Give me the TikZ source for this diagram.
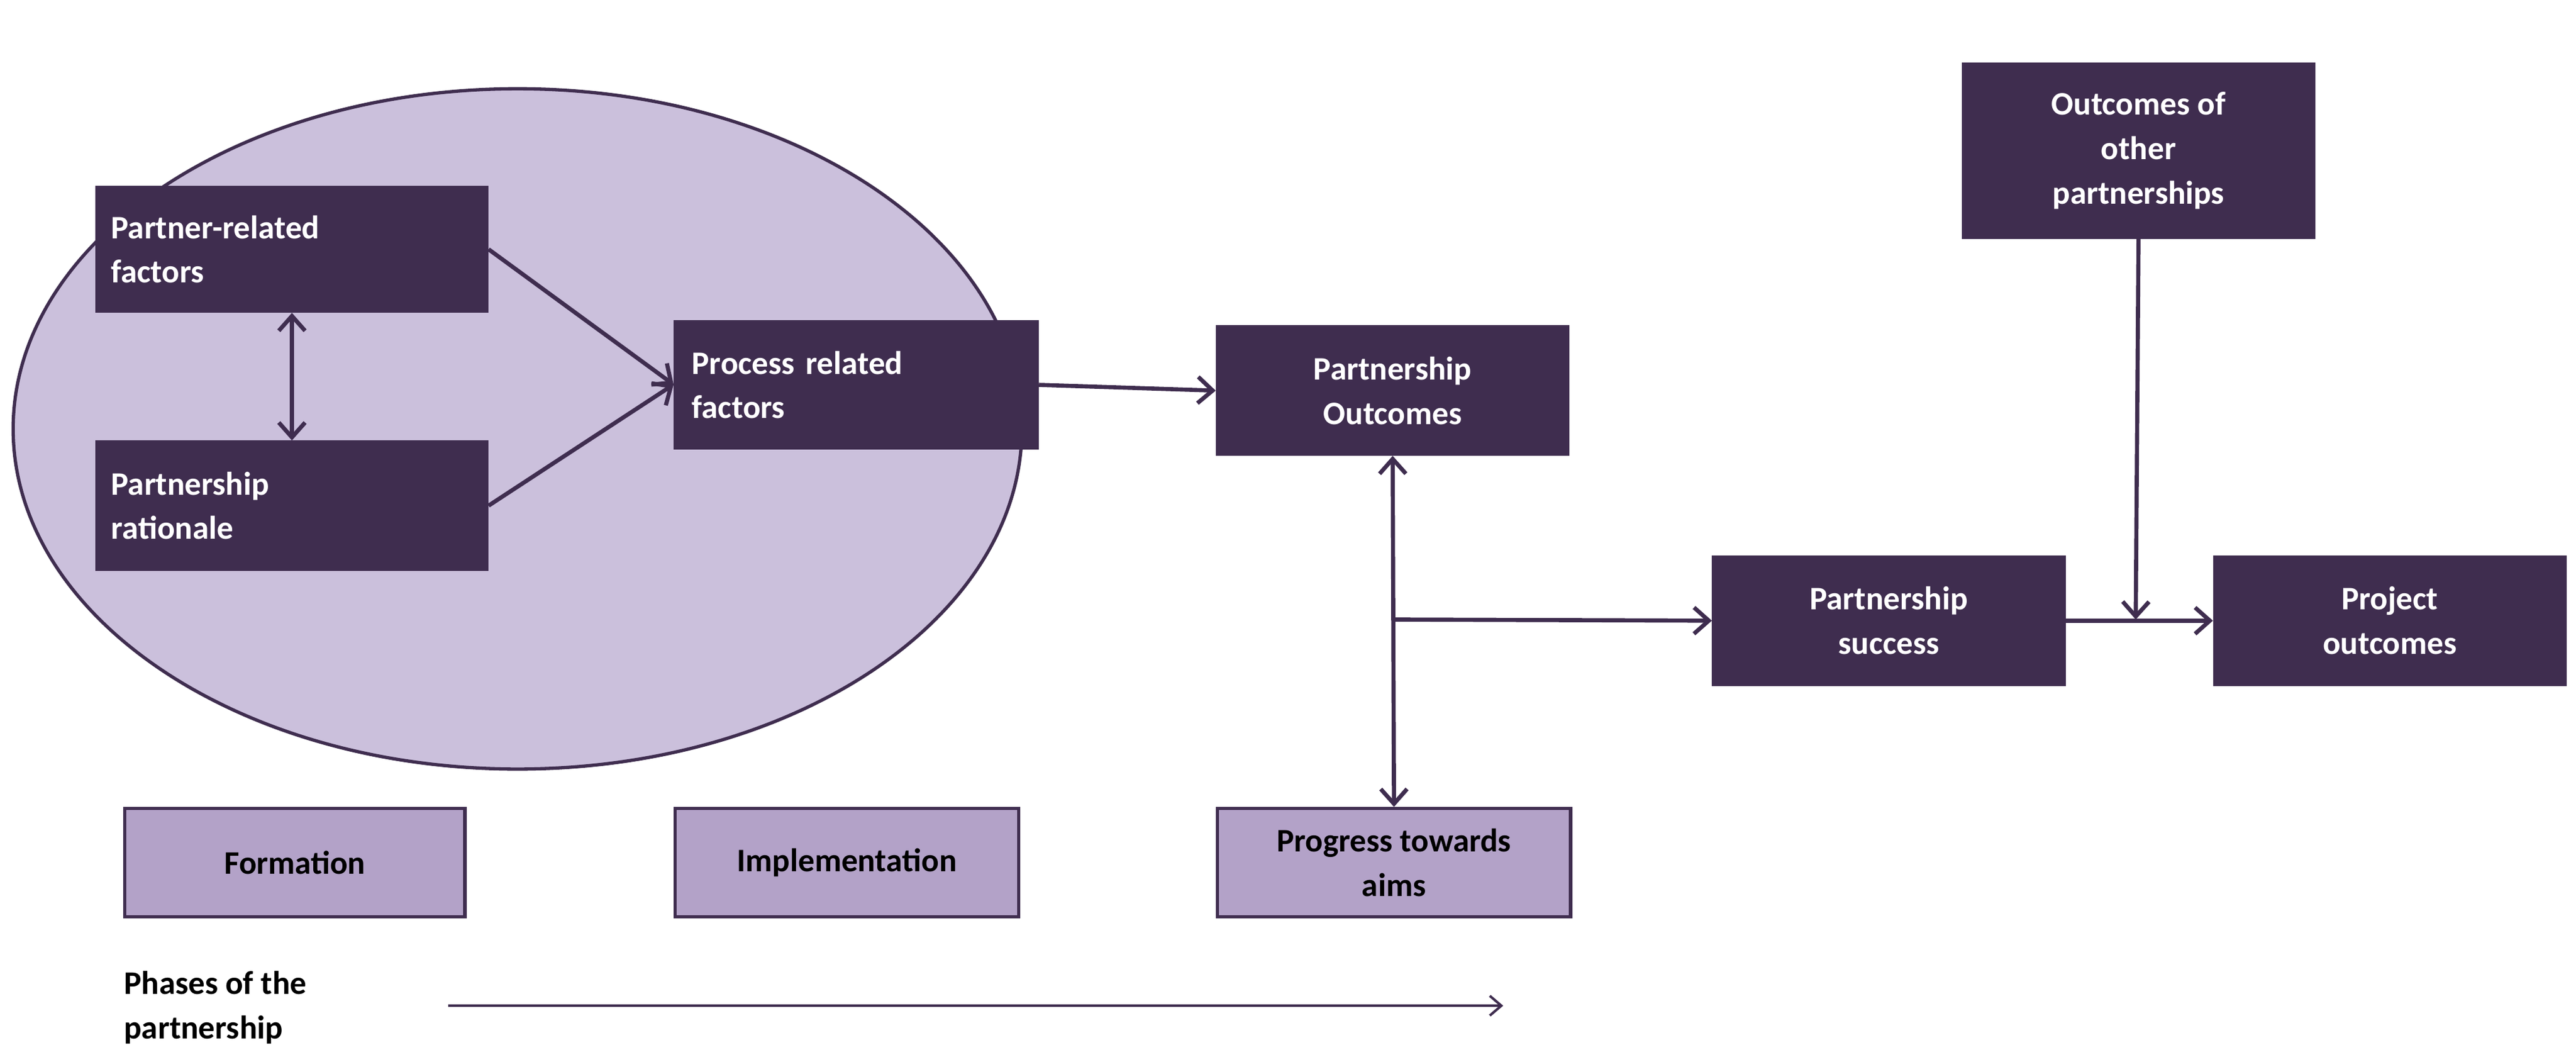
\documentclass[tikz,border=0pt]{standalone}
\usepackage{fontspec}
\setmainfont{Carlito}
\usetikzlibrary{arrows.meta}
\definecolor{dk}{HTML}{3F2D4F}
\definecolor{el}{HTML}{CBC0DC}
\definecolor{lt}{HTML}{B3A2C8}
\begin{document}
\begin{tikzpicture}[x=1pt,y=-1pt,
 box/.style={draw=dk,fill=dk,text=white,font=\fontsize{20}{27}\selectfont\bfseries,inner sep=0pt},
 pbox/.style={draw=dk,line width=2pt,fill=lt,text=black,font=\fontsize{20}{27}\selectfont\bfseries,inner sep=0pt},
 ar/.style={draw=dk,line width=2.5pt,-{Straight Barb[length=9pt,width=16pt]}},
 dar/.style={draw=dk,line width=2.5pt,{Straight Barb[length=9pt,width=16pt]}-{Straight Barb[length=9pt,width=16pt]}}]
\useasboundingbox (0,0) rectangle (1568,646);
\draw[dk,line width=2pt,fill=el] (315,261) ellipse [x radius=307,y radius=207];
\node[box,minimum width=239,minimum height=77,anchor=north west,text width=220,align=left] (prf) at (58,113) {Partner-related\\factors};
\node[box,minimum width=239,minimum height=79,anchor=north west,text width=220,align=left] (pr) at (58,268) {Partnership\\rationale};
\node[box,minimum width=222,minimum height=78,anchor=north west,text width=200,align=left] (proc) at (410,195) {Process related\\factors};
\node[box,minimum width=215,minimum height=79,anchor=north west,align=center] (po) at (740,198) {Partnership\\Outcomes};
\node[box,minimum width=215,minimum height=107,anchor=north west,align=center] (oo) at (1194,38) {Outcomes of\\other\\partnerships};
\node[box,minimum width=215,minimum height=79,anchor=north west,align=center] (ps) at (1042,338) {Partnership\\success};
\node[box,minimum width=215,minimum height=79,anchor=north west,align=center] (pj) at (1347,338) {Project\\outcomes};
\node[pbox,minimum width=207,minimum height=66,anchor=north west] (f) at (75,491) {Formation};
\node[pbox,minimum width=209,minimum height=66,anchor=north west] (im) at (410,491) {Implementation};
\node[pbox,minimum width=215,minimum height=66,anchor=north west,align=center] (pta) at (740,491) {Progress towards\\aims};
\node[font=\fontsize{20}{27}\selectfont\bfseries,align=left,anchor=west] (ph) at (72,613) {Phases of the\\partnership};
\coordinate (pa) at (273,612); \coordinate (pb) at (915,612);
\draw[dk,line width=1.5pt,-{Straight Barb[length=7pt,width=12pt]}] (pa) -- (pb);
\coordinate (j) at (410,234);
\draw[ar] (prf.east) -- (j);
\draw[ar] (pr.east) -- (j);
\draw[dar] (prf.south) -- (pr.north);
\draw[ar] (proc.east) -- (po.west);
\draw[dar] (po.south) -- (pta.north);
\coordinate (b) at (848,377);
\draw[ar] (b) -- (ps.west);
\draw[ar] (ps.east) -- (pj.west);
\coordinate (m) at (1300,377);
\draw[ar] (oo.south) -- (m);
\end{tikzpicture}
\end{document}
